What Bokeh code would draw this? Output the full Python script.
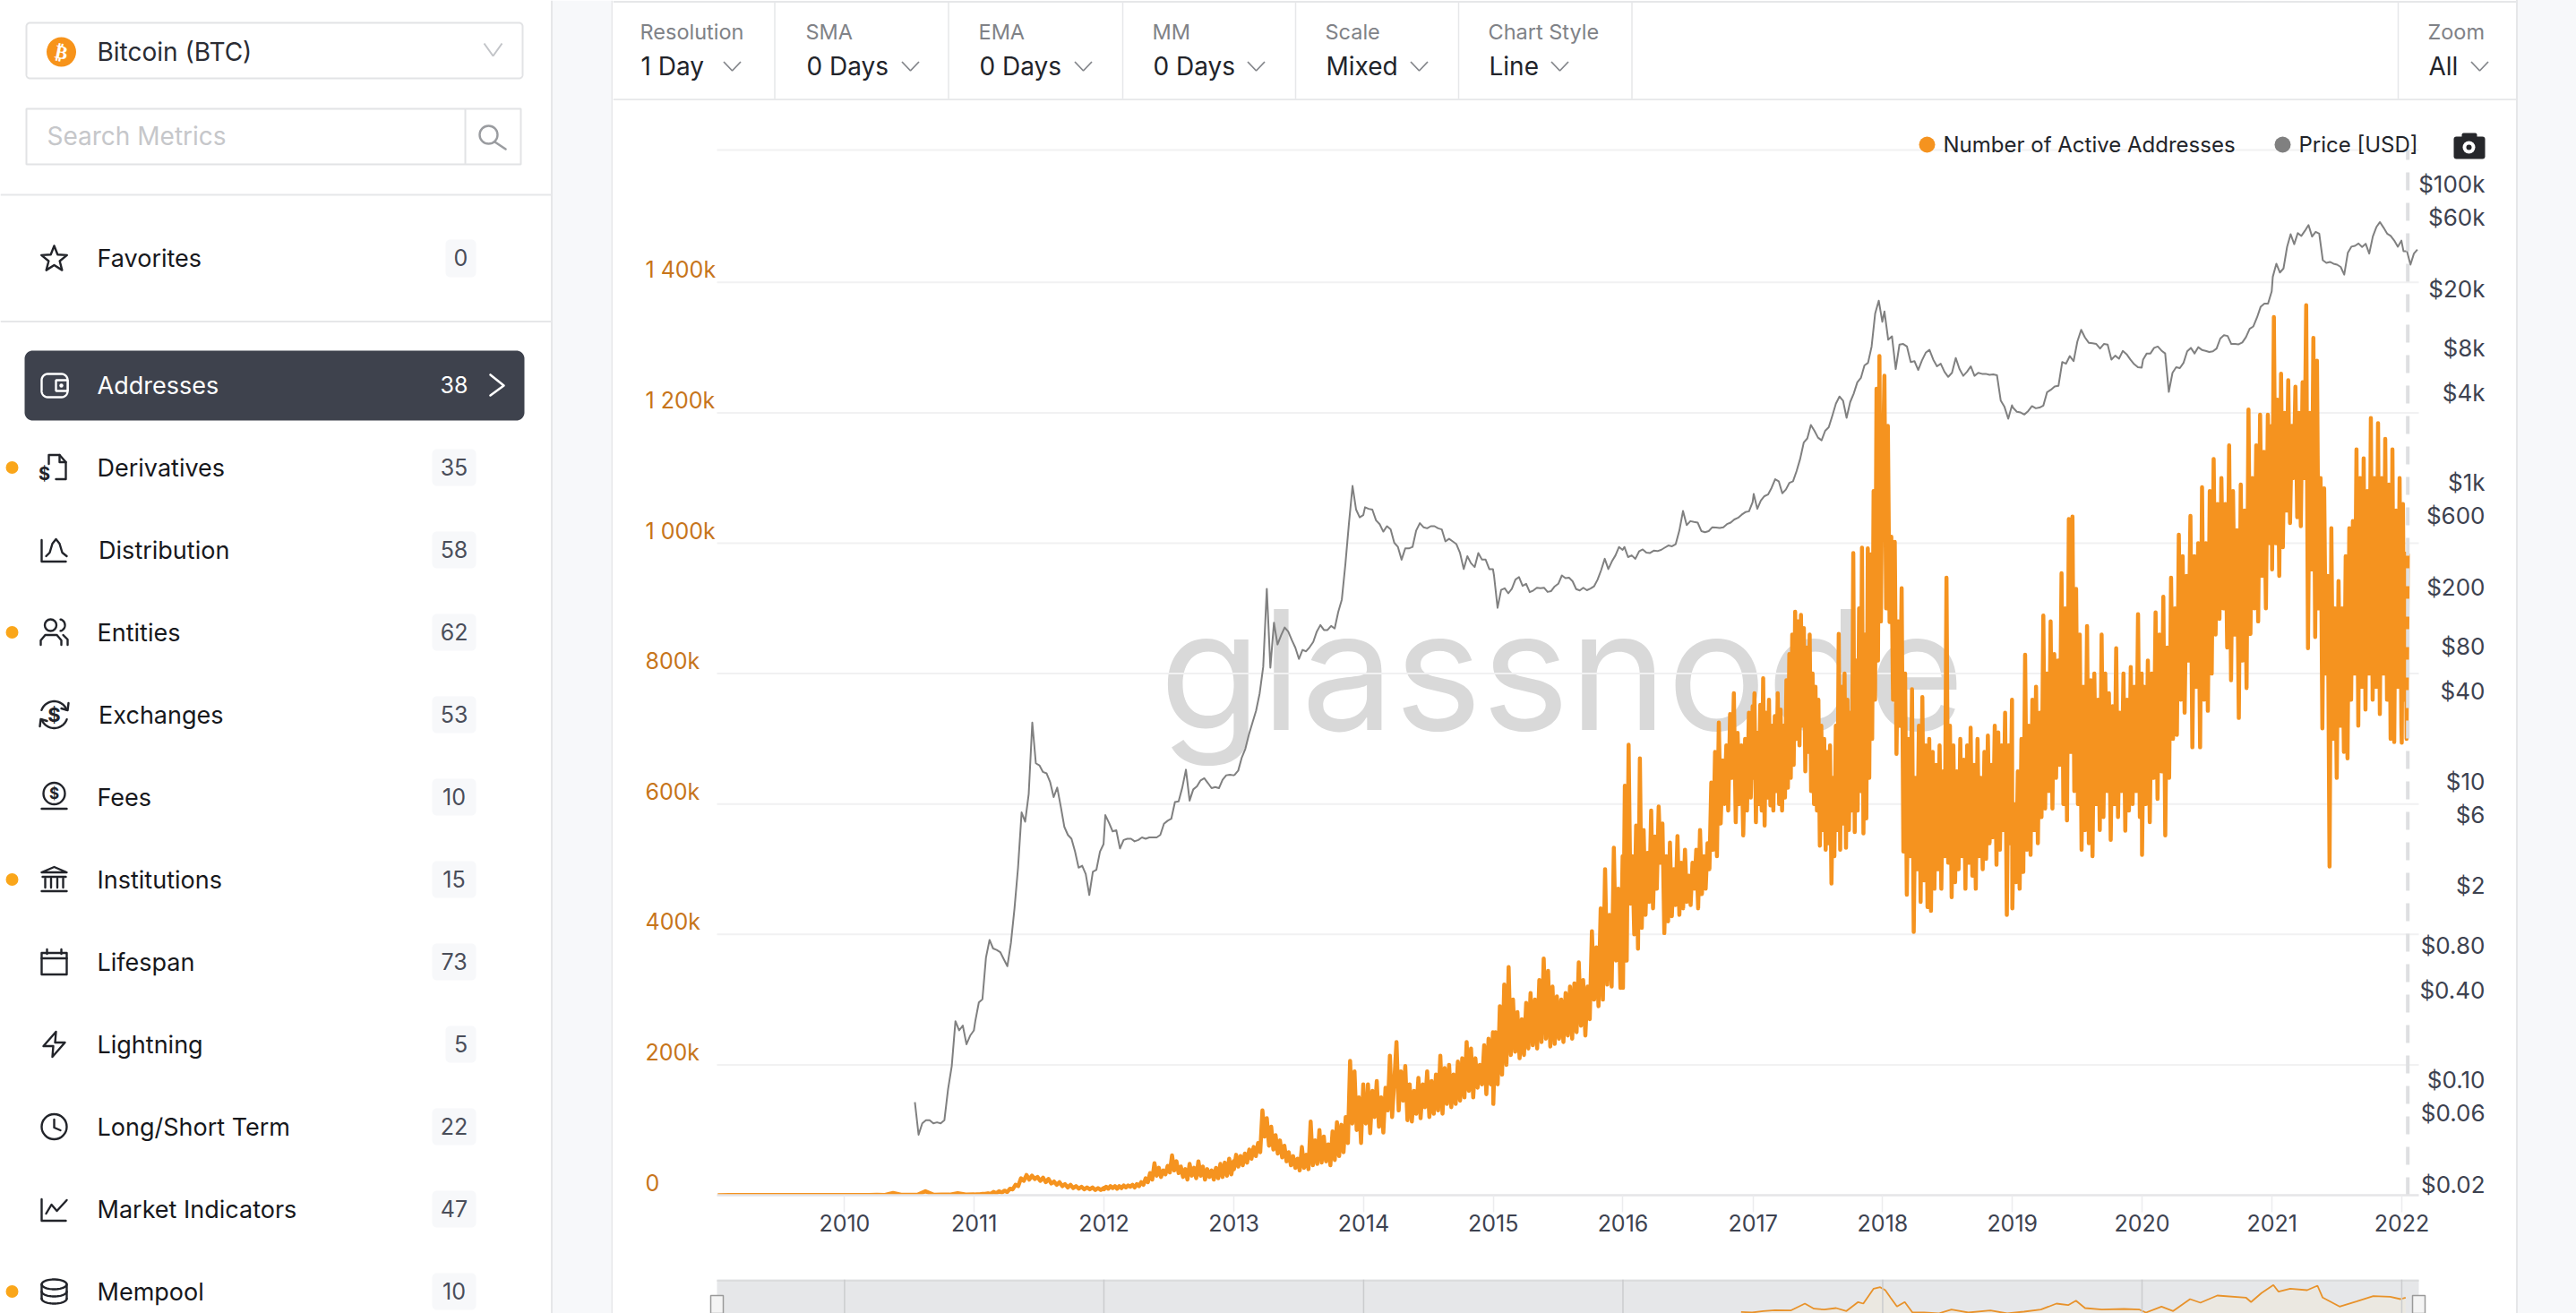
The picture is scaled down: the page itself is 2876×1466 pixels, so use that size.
#Bitcoin active addresses vs price, glassnode studio page
import numpy as np
import pandas as pd
from bokeh.core.properties import value
from bokeh.embed import file_html
from bokeh.layouts import column, row
from bokeh.models import (BoxAnnotation, ColumnDataSource, DatetimeTickFormatter, FixedTicker, Label,
                          LabelSet, LogScale, Range1d, Spacer)
from bokeh.plotting import figure
from bokeh.resources import INLINE

#active addresses, thousands
active_2009 = [0.1, 0.2, 0.2, 0.3, 0.3, 0.4, 0.3, 0.4, 0.4, 0.3, 0.4, 0.4]
active_2010 = [0.4, 0.5, 0.4, 0.5, 0.6, 0.5, 3.5, 0.6, 0.7, 0.6, 6, 0.8, 1, 0.9, 3, 1.2, 1.5]
active_2011 = [1, 1.5, 1.5, 2, 2, 3, 2, 5, 3, 6, 4, 7, 5, 10, 9, 16, 14, 26, 22, 31, 24, 30, 25, 28, 22, 27, 20, 25,
               18, 21, 16, 20, 14, 17, 12, 16, 11, 14, 10, 13, 9, 12, 9, 12, 8, 11, 8, 11]
active_2012 = [9, 13, 10, 14, 11, 14, 10, 14, 11, 15, 12, 15, 13, 16, 12, 17, 14, 20, 16, 26, 20, 34, 24, 49, 30, 42,
               28, 38, 32, 45, 35, 61, 38, 52, 34, 44, 28, 40, 24, 48, 30, 42, 26, 52, 30, 44, 24, 40, 28, 38, 24, 42,
               26, 48, 28, 50, 30, 56, 32, 52]
active_2013 = [40, 62, 44, 60, 46, 64, 50, 70, 56, 74, 60, 80, 66, 130, 90, 118, 76, 105, 70, 92, 64, 84, 58, 76, 52,
               66, 46, 60, 42, 56, 38, 74, 42, 62, 40, 113, 46, 84, 48, 100, 50, 90, 52, 78, 46, 98, 54, 112, 60, 108,
               66, 120, 80, 206, 110, 190, 100, 150, 80, 170]
active_2014 = [150, 110, 170, 95, 160, 120, 175, 105, 150, 96, 165, 130, 214, 120, 175, 235, 130, 190, 145, 198, 115,
               170, 113, 160, 125, 180, 118, 170, 135, 190, 120, 175, 125, 185, 130, 214, 125, 195, 140, 200, 135, 185,
               140, 205, 145, 210, 150, 235, 160, 225, 150, 210, 165, 200, 170, 230, 155, 240, 170, 250]
active_2015 = [140, 250, 170, 290, 185, 323, 200, 350, 215, 300, 220, 281, 210, 270, 215, 295, 225, 310, 230, 300, 225,
               330, 235, 363, 240, 344, 228, 320, 232, 305, 240, 300, 235, 310, 245, 320, 240, 325, 250, 357, 260, 330,
               245, 320, 270, 405, 300, 380, 290, 440, 300, 500, 323, 430, 320, 533, 360, 470, 318, 520]
active_2016 = [318, 628, 360, 691, 447, 520, 400, 567, 378, 670, 410, 560, 430, 525, 450, 590, 440, 550, 470, 596, 510,
               570, 402, 520, 420, 541, 428, 500, 445, 551, 430, 510, 440, 530, 450, 490, 445, 510, 470, 530, 440, 560,
               462, 520, 470, 540, 500, 633, 530, 680, 520, 725, 570, 667, 600, 690, 590, 738, 640, 770, 572, 709, 600,
               690, 552, 700, 590, 740, 610, 750]
active_2017 = [640, 770, 572, 709, 600, 752, 590, 793, 567, 740, 610, 760, 598, 720, 590, 735, 620, 770, 600, 745, 590,
               720, 610, 790, 625, 830, 640, 860, 660, 895, 700, 880, 690, 890, 720, 870, 650, 840, 680, 860, 620, 800,
               600, 780, 590, 760, 536, 720, 560, 700, 530, 680, 540, 690, 478, 640, 520, 720, 560, 861, 530, 780, 570,
               800, 533, 760, 560, 740, 590, 985, 557, 820, 590, 900, 620, 993, 555, 860, 578, 992, 640, 983, 700,
               1080, 760, 1237, 820, 1287, 880, 1130]
active_2018 = [1100, 1257, 900, 1180, 879, 1010, 760, 1002, 677, 880, 720, 931, 527, 800, 461, 700, 520, 776, 404, 640,
               500, 720, 450, 764, 483, 690, 442, 700, 436, 680, 470, 660, 500, 690, 470, 650, 520, 947, 510, 720, 457,
               690, 480, 650, 500, 700, 520, 668, 470, 690, 510, 717, 490, 660, 470, 700, 520, 640, 500, 680, 516, 705,
               540, 660, 549, 720, 507, 710, 530, 690, 560, 740, 430, 690, 540, 760]
active_2019 = [440, 600, 480, 650, 470, 700, 496, 829, 530, 720, 522, 760, 560, 780, 540, 740, 580, 889, 593, 800, 620,
               880, 593, 830, 640, 820, 660, 954, 600, 900, 575, 1037, 680, 1041, 620, 930, 600, 860, 530, 780, 560,
               873, 540, 790, 520, 800, 600, 760, 560, 860, 580, 800, 620, 770, 545, 750, 600, 839, 580, 740, 620, 800,
               559, 760, 590, 810, 600, 780, 620, 891, 580, 800]
active_2020 = [522, 780, 600, 820, 572, 800, 640, 894, 608, 860, 650, 918, 552, 840, 640, 947, 700, 900, 706, 1013, 760,
               980, 740, 950, 820, 1042, 687, 980, 780, 1000, 687, 1086, 760, 1000, 743, 1080, 800, 1129, 860, 1060,
               884, 1100, 900, 1060, 840, 1150, 790, 1080, 860, 1020, 732, 1090, 820, 1050, 778, 1205, 861, 1100, 900,
               1150, 880, 1197, 950, 1140, 900, 1197, 1000, 1180]
active_2021 = [960, 1347, 1000, 1220, 950, 1260, 994, 1200, 1050, 1250, 1031, 1180, 1100, 1240, 1040, 1200, 1026, 1247,
               1100, 1365, 839, 1200, 960, 1315, 856, 1280, 900, 1100, 716, 1084, 800, 950, 504, 1023, 700, 900, 640,
               942, 720, 900, 680, 980, 670, 1023, 760, 1034, 800, 1144, 720, 1100, 780, 1130, 745, 1080, 800, 1192,
               760, 1100, 780, 1184, 738, 1100, 800, 1160, 760, 1090, 700, 1144, 695, 1050, 780, 1100, 720]
active_2022 = [694, 1060, 760, 984, 700, 984]

#price in USD
price_2010 = [0.086, 0.052, 0.062, 0.065, 0.065, 0.062, 0.063, 0.062, 0.065, 0.105, 0.15, 0.30, 0.26, 0.28, 0.21, 0.24,
              0.26]
price_2011 = [0.30, 0.40, 0.42, 0.80, 1.05, 0.92, 0.90, 0.87, 0.78, 0.70, 1.0, 1.7, 3.2, 7.5, 6.5, 10, 30, 16, 15.5, 14,
              13.7, 12, 9.5, 11, 8.2, 6.0, 5.3, 5.0, 4.1, 3.2, 3.3, 2.9, 2.1, 3.0, 3.1, 4.1, 4.6]
price_2012 = [7.2, 6.4, 5.6, 5.7, 4.3, 4.9, 5.0, 5.0, 4.8, 4.9, 5.1, 5.0, 5.1, 5.1, 5.1, 5.3, 6.3, 6.6, 6.8, 8.8, 8.9,
              11, 14.5, 9.0, 10.7, 11.2, 12.3, 12.7, 11.8, 10.9, 11.1, 10.9, 12.4, 13.3, 13.4, 13.3]
price_2013 = [13.4, 14.3, 17.5, 20, 25, 30, 36, 47, 71, 236, 70, 140, 100, 115, 130, 122, 107, 95, 80, 92, 90, 96, 104,
              122, 135, 125, 125, 133, 128, 165, 200, 345, 650, 1153, 800, 710, 735]
price_2014 = [830, 810, 800, 680, 640, 570, 620, 590, 480, 450, 370, 440, 440, 450, 580, 650, 610, 600, 620, 620, 600,
              590, 490, 510, 490, 470, 410, 320, 390, 350, 330, 410, 370, 370, 320, 320]
price_2015 = [290, 176, 232, 238, 220, 236, 272, 283, 247, 255, 224, 230, 240, 238, 240, 225, 228, 245, 255, 290, 278,
              280, 265, 235, 230, 240, 231, 237, 245, 272, 315, 375, 320, 360, 395, 450, 430]
price_2016 = [450, 385, 395, 375, 420, 433, 412, 410, 425, 422, 430, 445, 460, 455, 470, 580, 784, 630, 670, 662, 655,
              575, 565, 575, 610, 608, 603, 610, 640, 655, 688, 705, 740, 770, 780, 900]
price_2017 = [1020, 810, 920, 985, 1010, 1120, 1280, 1240, 1030, 1090, 1210, 1240, 1450, 1750, 2250, 2400, 2950, 2700,
              2430, 2330, 2700, 2850, 3400, 4100, 4580, 4300, 3300, 4200, 4800, 5700, 6100, 7400, 7700, 9900, 16500,
              20100, 14500]
price_2018 = [17000, 11000, 11600, 7000, 10200, 10300, 9900, 7800, 7900, 6900, 8000, 9000, 9400, 8100, 7300, 7600, 6700,
              6200, 6600, 8300, 7000, 6300, 6700, 7300, 6300, 6600, 6500, 6500, 6400, 6450, 6350, 4300, 3900, 3250,
              4000]
price_2019 = [3850, 3620, 3580, 3470, 3660, 3950, 3820, 3860, 3980, 4900, 5080, 5350, 5400, 7800, 7600, 8550, 7900,
              10700, 12800, 11400, 10500, 10400, 10300, 9600, 10300, 10200, 8100, 8600, 8200, 9250, 8800, 8100, 7550,
              7200, 7150]
price_2020 = [8100, 8900, 8900, 9700, 9900, 9300, 8900, 4920, 6600, 7200, 7100, 7700, 9200, 9700, 8900, 9800, 9400,
              9250, 9100, 9200, 9600, 11200, 11800, 11650, 10300, 10300, 10250, 10550, 11450, 13000, 13500, 15500,
              18300, 19200, 19200, 23200]
price_2021 = [29000, 35500, 31000, 33000, 46000, 56000, 48000, 57000, 54500, 59000, 64500, 54000, 58000, 56500, 37500,
              36000, 36500, 35500, 35000, 33800, 30000, 42000, 46200, 46800, 48500, 46000, 48300, 41500, 54000, 62500,
              67500, 62000, 56500, 54600, 50800, 46200, 50700]
price_2022 = [43000, 43000, 35000, 41500, 44200]

#overview strip under the chart: position in years and height of the line
navigator_years = [2016.91, 2016.995, 2017.08, 2017.17, 2017.29, 2017.40, 2017.47, 2017.55, 2017.64, 2017.72, 2017.81,
                   2017.85, 2017.93, 2017.98, 2018.02, 2018.06, 2018.11, 2018.17, 2018.23, 2018.32, 2018.43, 2018.53,
                   2018.66, 2018.83, 2018.96, 2019.09, 2019.22, 2019.34, 2019.43, 2019.49, 2019.56, 2019.69, 2019.86,
                   2019.98, 2020.03, 2020.15, 2020.24, 2020.37, 2020.45, 2020.58, 2020.80, 2020.84, 2020.92, 2021.01,
                   2021.05, 2021.14, 2021.27, 2021.35, 2021.39, 2021.52, 2021.65, 2021.78, 2021.91, 2021.99, 2022.03]
navigator_level = [1.7, 1, 2.7, 3.7, 3.3, 11, 5.3, 4.3, 6, 2.7, 12.7, 11, 27.7, 29.3, 26, 17.7, 7.7, 12.7, 1, 1, 0, 4.3,
                   1, 3.3, 0, 2, 4.3, 11, 9.3, 14.3, 6, 4.3, 5, 4.3, 1, 7.7, 2.7, 16, 12, 20, 17.7, 12.7, 22.7, 31.7,
                   24.3, 27.7, 26, 31, 17.7, 7.7, 13.3, 19.3, 18.7, 16, 17.7]
navigator_marks = [2010, 2012, 2014, 2016, 2018, 2020, 2022]

year_ticks = [2010, 2011, 2012, 2013, 2014, 2015, 2016, 2017, 2018, 2019, 2020, 2021, 2022]
active_ticks = [0, 200, 400, 600, 800, 1000, 1200, 1400]
active_tick_labels = ["0", "200k", "400k", "600k", "800k", "1 000k", "1 200k", "1 400k"]
active_grid = [200, 400, 600, 800, 1000, 1200, 1400, 1603]
price_ticks = [100000, 60000, 20000, 8000, 4000, 1000, 600, 200, 80, 40, 10, 6, 2, 0.8, 0.4, 0.1, 0.06, 0.02]
price_tick_labels = ["$100k", "$60k", "$20k", "$8k", "$4k", "$1k", "$600", "$200", "$80", "$40", "$10", "$6", "$2",
                     "$0.80", "$0.40", "$0.10", "$0.06", "$0.02"]

menu_names = ["Derivatives", "Distribution", "Entities", "Exchanges", "Fees", "Institutions", "Lifespan", "Lightning",
              "Long/Short Term", "Market Indicators", "Mempool"]
menu_counts = ["35", "58", "62", "53", "10", "15", "73", "5", "22", "47", "10"]
menu_dots = ["Derivatives", "Entities", "Institutions", "Mempool"]
toolbar_labels = ["Resolution", "SMA", "EMA", "MM", "Scale", "Chart Style", "Zoom"]
toolbar_values = ["1 Day", "0 Days", "0 Days", "0 Days", "Mixed", "Line", "All"]

ORANGE = "#f5931f"
GRAY = "#808080"
FONT = value("Inter")
EDGE = "#e6e7e9"


def spread(values, start, end):
    return pd.date_range(start, end, periods=len(values))


def year_date(y):
    year = int(y)
    return pd.Timestamp(year=year, month=1, day=1) + pd.Timedelta(days=(y - year) * 365.25)


def ms(t):
    return t.timestamp() * 1000


active_parts = [(active_2009, "2009-01-09", "2009-12-31"), (active_2010, "2010-01-01", "2010-12-31"),
                (active_2011, "2011-01-01", "2011-12-31"), (active_2012, "2012-01-01", "2012-12-31"),
                (active_2013, "2013-01-01", "2013-12-31"), (active_2014, "2014-01-01", "2014-12-31"),
                (active_2015, "2015-01-01", "2015-12-31"), (active_2016, "2016-01-01", "2016-12-31"),
                (active_2017, "2017-01-01", "2017-12-31"), (active_2018, "2018-01-01", "2018-12-31"),
                (active_2019, "2019-01-01", "2019-12-31"), (active_2020, "2020-01-01", "2020-12-31"),
                (active_2021, "2021-01-01", "2021-12-31"), (active_2022, "2022-01-01", "2022-01-18")]
price_parts = [(price_2010, "2010-07-18", "2010-12-31"), (price_2011, "2011-01-04", "2011-12-31"),
               (price_2012, "2012-01-05", "2012-12-31"), (price_2013, "2013-01-03", "2013-12-31"),
               (price_2014, "2014-01-05", "2014-12-31"), (price_2015, "2015-01-03", "2015-12-31"),
               (price_2016, "2016-01-05", "2016-12-31"), (price_2017, "2017-01-03", "2017-12-31"),
               (price_2018, "2018-01-06", "2018-12-31"), (price_2019, "2019-01-03", "2019-12-31"),
               (price_2020, "2020-01-04", "2020-12-31"), (price_2021, "2021-01-03", "2021-12-31"),
               (price_2022, "2022-01-06", "2022-02-14")]
active_dates = np.concatenate([spread(v, a, b).values for v, a, b in active_parts])
active_values = [x for v, a, b in active_parts for x in v]
price_dates = np.concatenate([spread(v, a, b).values for v, a, b in price_parts])
price_values = [x for v, a, b in price_parts for x in v]

x_start = pd.Timestamp("2009-01-07")
x_end = pd.Timestamp("2022-02-18")
per_px = (x_end - x_start) / 1900
# panel runs 116px left and 109px right of the plotted dates
view_start = x_start - per_px * 116
view_end = x_end + per_px * 109

# ---------------------------------------------------------------- sidebar
side = figure(width=684, height=1466, x_range=Range1d(0, 684), y_range=Range1d(1466, 0), output_backend="svg",
              toolbar_location=None, x_axis_location=None, y_axis_location=None, min_border=0,
              outline_line_color=None, background_fill_color="white", border_fill_color="white")
side.grid.visible = False


def stroke(xs, ys, color="#22242a", width=2.4):
    side.line(xs, ys, line_color=color, line_width=width, line_join="round", line_cap="round")


def ring(x, y, r, color="#22242a", width=2.4):
    side.circle([x], [y], radius=r, fill_color=None, line_color=color, line_width=width)


def arc_pts(cx, cy, rx, ry, a0, a1):
    t = np.radians(np.linspace(a0, a1, 30))
    return list(cx + rx * np.cos(t)), list(cy + ry * np.sin(t))


def box(x0, x1, y0, y1, color="#e2e3e5", fill=None, radius=0, width=2):
    xs = [x0 + radius, x1 - radius]
    ys = [y0, y0]
    if radius:
        a, b = arc_pts(x1 - radius, y0 + radius, radius, radius, -90, 0)
        xs += a; ys += b
        a, b = arc_pts(x1 - radius, y1 - radius, radius, radius, 0, 90)
        xs += a; ys += b
        a, b = arc_pts(x0 + radius, y1 - radius, radius, radius, 90, 180)
        xs += a; ys += b
        a, b = arc_pts(x0 + radius, y0 + radius, radius, radius, 180, 270)
        xs += a; ys += b
    else:
        xs = [x0, x1, x1, x0]
        ys = [y0, y0, y1, y1]
    side.patch(xs, ys, fill_color=fill or "white", fill_alpha=1 if fill else 0, line_color=color, line_width=width)


def chevron(p, x, y, w, h, color, width=1.8):
    p.line([x - w / 2, x, x + w / 2], [y - h / 2, y + h / 2, y - h / 2], line_color=color, line_width=width)


side.quad(left=[616], right=[682], top=[0], bottom=[1466], fill_color="#f7f8fa", line_color=None)
side.quad(left=[682], right=[684], top=[0], bottom=[1466], fill_color=EDGE, line_color=None)
side.line([615.5, 615.5], [0, 1466], line_color=EDGE, line_width=2)
side.line([0, 615], [217, 217], line_color=EDGE, line_width=2)
side.line([0, 615], [358.5, 358.5], line_color=EDGE, line_width=2)

box(29, 583, 25, 87, radius=4)
side.circle([68], [57.5], radius=16.5, fill_color="#f7931a", line_color=None)
side.text([68], [58], text=["\u20bf"], text_font=value("DejaVu Sans"), text_font_style="bold", text_font_size="21px",
          text_color="white", text_align="center", text_baseline="middle", angle=[-0.2])
side.text([108], [57], text=["Bitcoin (BTC)"], text_font=FONT, text_font_size="28px", text_color="#2a2c33",
          text_baseline="middle")
chevron(side, 550, 55, 20, 14, "#c2c4c8", 2)
box(29, 581, 121, 183)
side.line([519, 519], [121, 183], line_color="#e2e3e5", line_width=2)
side.text([52], [151.5], text=["Search Metrics"], text_font=FONT, text_font_size="28px", text_color="#c6c7ca",
          text_baseline="middle")
ring(545, 150, 10, "#9a9ca0", 2.4)
stroke([552, 564], [158, 166], "#9a9ca0", 2.6)

# Favorites row and the selected row
side.text([108], [288], text=["Favorites"], text_font=FONT, text_font_size="27px", text_color="#17181c",
          text_baseline="middle")
box(498, 530, 268, 308, color="#f7f8fa", fill="#f7f8fa", radius=4)
side.text([514], [287], text=["0"], text_font=FONT, text_font_size="25px", text_color="#4a4e5a", text_align="center",
          text_baseline="middle")
t = np.radians(np.arange(0, 11) * 36 - 90)
r = np.array([15, 6.5] * 5 + [15])
stroke(list(60 + r * np.cos(t)), list(289 + r * np.sin(t)))

box(28, 584, 392, 468, color="#3e424d", fill="#3e424d", radius=8)
side.text([108], [429.5], text=["Addresses"], text_font=FONT, text_font_size="27px", text_color="white",
          text_baseline="middle")
side.text([506.5], [429], text=["38"], text_font=FONT, text_font_size="25px", text_color="white", text_align="center",
          text_baseline="middle")
stroke([547, 562, 547], [418, 430, 441], "white", 2.6)
box(46, 75, 417, 443, color="white", radius=7, width=2.4)
side.patch([75, 62, 62, 75], [424, 424, 436, 436], fill_color="#3e424d", line_color="white", line_width=2.4)
side.circle([68], [430], radius=2.2, fill_color="white", line_color=None)


def icon(name, y):
    cx = 60
    if name == "Derivatives":
        stroke([cx - 6, cx - 6, cx + 6, cx + 13, cx + 13, cx + 2], [y - 4, y - 14, y - 14, y - 6, y + 13, y + 13])
        stroke([cx + 6, cx + 6, cx + 13], [y - 14, y - 6, y - 6])
        side.text([cx - 11], [y + 7], text=["$"], text_font=FONT, text_font_style="bold", text_font_size="20px",
                  text_color="#22242a", text_align="center", text_baseline="middle")
    elif name == "Distribution":
        stroke([cx - 14, cx - 14, cx + 13], [y - 11, y + 13, y + 13])
        stroke([cx - 9, cx - 5, cx - 2, cx + 2, cx + 6, cx + 9, cx + 14],
               [y + 7, y + 3, y - 7, y - 12, y - 7, y + 3, y + 7])
    elif name == "Entities":
        ring(cx - 4, y - 8, 6.5)
        stroke([cx - 15, cx - 15, cx - 10, cx + 3, cx + 8, cx + 8], [y + 14, y + 9, y + 3, y + 3, y + 9, y + 14])
        a, b = arc_pts(cx + 6, y - 8, 6, 6.5, -80, 80)
        stroke(a, b)
        stroke([cx + 10, cx + 15, cx + 15], [y + 3, y + 8, y + 14])
    elif name == "Exchanges":
        a, b = arc_pts(cx, y, 15, 15, -160, -20)
        stroke(a, b)
        a, b = arc_pts(cx, y, 15, 15, 20, 160)
        stroke(a, b)
        stroke([cx + 16, cx + 15, cx + 8], [y - 13, y - 5, y - 7])
        stroke([cx - 16, cx - 15, cx - 8], [y + 13, y + 5, y + 7])
        side.text([cx], [y], text=["$"], text_font=FONT, text_font_style="bold", text_font_size="22px",
                  text_color="#22242a", text_align="center", text_baseline="middle")
    elif name == "Fees":
        ring(cx, y - 4, 12)
        stroke([cx - 14, cx + 14], [y + 13, y + 13])
        side.text([cx], [y - 4], text=["$"], text_font=FONT, text_font_style="bold", text_font_size="17px",
                  text_color="#22242a", text_align="center", text_baseline="middle")
    elif name == "Institutions":
        stroke([cx - 14, cx, cx + 14, cx - 14], [y - 8, y - 14, y - 8, y - 8])
        stroke([cx - 13, cx + 13], [y - 3, y - 3])
        for dx in [-10, -3.5, 3.5, 10]:
            stroke([cx + dx, cx + dx], [y - 1, y + 9])
        stroke([cx - 14, cx + 14], [y + 13, y + 13])
    elif name == "Lifespan":
        stroke([cx - 14, cx + 14, cx + 14, cx - 14, cx - 14], [y - 10, y - 10, y + 14, y + 14, y - 10])
        stroke([cx - 14, cx + 14], [y - 4, y - 4])
        stroke([cx - 8, cx - 8], [y - 14, y - 9])
        stroke([cx + 8, cx + 8], [y - 14, y - 9])
    elif name == "Lightning":
        stroke([cx + 2, cx - 12, cx - 1, cx - 2, cx + 12, cx + 1, cx + 2],
               [y - 14, y + 2, y + 2, y + 14, y - 2, y - 2, y - 14])
    elif name == "Long/Short Term":
        ring(cx, y, 14)
        stroke([cx, cx, cx + 7], [y - 8, y + 1, y + 4])
    elif name == "Market Indicators":
        stroke([cx - 14, cx - 14, cx + 13], [y - 11, y + 13, y + 13])
        stroke([cx - 9, cx - 3, cx + 3, cx + 14], [y + 5, y - 5, y + 2, y - 10])
    elif name == "Mempool":
        a, b = arc_pts(cx, y - 8, 14, 5.5, 0, 360)
        stroke(a, b)
        stroke([cx - 14, cx - 14], [y - 8, y + 8])
        stroke([cx + 14, cx + 14], [y - 8, y + 8])
        a, b = arc_pts(cx, y, 14, 5.5, 0, 180)
        stroke(a, b)
        a, b = arc_pts(cx, y + 8, 14, 5.5, 0, 180)
        stroke(a, b)


for i, (name, count) in enumerate(zip(menu_names, menu_counts)):
    y = 521.5 + 92 * i
    label_x = 109.6 if name in ("Distribution", "Exchanges") else 108
    side.text([label_x], [y], text=[name], text_font=FONT, text_font_size="27px", text_color="#17181c",
              text_baseline="middle")
    left = 498 if len(count) == 1 else 483
    box(left, 530, y - 19.5, y + 19.5, color="#f7f8fa", fill="#f7f8fa", radius=4)
    side.text([(left + 530) / 2], [y - 0.5], text=[count], text_font=FONT, text_font_size="25px", text_color="#4a4e5a",
              text_align="center", text_baseline="middle")
    if name in menu_dots:
        side.circle([13], [y], radius=7, fill_color="#faa61a", line_color=None)
    icon(name, y)

# ---------------------------------------------------------------- option bar over the chart
bar = figure(width=2125, height=112, x_range=Range1d(684, 2809), y_range=Range1d(112, 0), output_backend="svg",
             toolbar_location=None, x_axis_location=None, y_axis_location=None, min_border=0,
             outline_line_color=None, background_fill_color="white", border_fill_color="white")
bar.grid.visible = False
bar.line([684, 2809], [111, 111], line_color=EDGE, line_width=2.5)
bar.line([684, 2809], [1.5, 1.5], line_color=EDGE, line_width=2)
for sep in [864.5, 1058.5, 1253, 1446, 1628, 1821.5, 2677]:
    bar.line([sep, sep], [2, 110], line_color=EDGE, line_width=1.5)
label_pos = [714, 899, 1092, 1286, 1479, 1661, 2710]
chev_pos = [817, 1016, 1209, 1402, 1584, 1741, 2768]
for name, val, x, cx in zip(toolbar_labels, toolbar_values, label_pos, chev_pos):
    bar.text([x], [35], text=[name], text_font=FONT, text_font_size="23.5px", text_color="#808287",
             text_baseline="middle")
    bar.text([x + 1], [73], text=[val], text_font=FONT, text_font_size="28px", text_color="#22242a",
             text_baseline="middle")
    chevron(bar, cx, 73.5, 19, 10, "#85878c")

# ---------------------------------------------------------------- main chart
# frame fills the panel down to the date axis, so legend and value labels stay inside it
p = figure(width=2125, height=1316, x_axis_type="datetime", x_range=Range1d(view_start, view_end),
           y_range=Range1d(0, 1678.6), y_axis_location=None, output_backend="svg", toolbar_location=None,
           min_border_left=0, min_border_right=0, min_border_top=0, min_border_bottom=94,
           outline_line_color=None, background_fill_color="white", border_fill_color="white")
p.extra_y_ranges = {"price": Range1d(0.02047, 438400)}
p.extra_y_scales = {"price": LogScale()}

p.xgrid.visible = False
p.ygrid.visible = False
p.xaxis.bounds = (ms(x_start), ms(x_end))
p.xaxis.ticker = FixedTicker(ticks=[ms(pd.Timestamp(year=y, month=1, day=1)) for y in year_ticks])
p.xaxis.formatter = DatetimeTickFormatter(years="%Y", months="%Y", days="%Y", hours="%Y", context=None)
p.xaxis.axis_line_color = "#e5e5e7"
p.xaxis.axis_line_width = 2.5
p.xaxis.major_tick_line_color = "#ececee"
p.xaxis.major_tick_line_width = 1.5
p.xaxis.major_tick_in = 0
p.xaxis.major_tick_out = 19
p.xaxis.minor_tick_line_color = None
p.xaxis.major_label_text_font = "Inter"
p.xaxis.major_label_text_font_size = "25px"
p.xaxis.major_label_text_color = "#3d4250"
p.xaxis.major_label_standoff = 2

mark = Label(x=610, y=635, x_units="canvas", y_units="canvas", text="glassnode", text_font="Inter",
             text_font_size="185px", text_color="#d9d9d9", text_baseline="alphabetic", level="underlay")
p.add_layout(mark)

p.segment([x_start] * len(active_grid), active_grid, [x_end] * len(active_grid), active_grid, line_color="#f1f1f2",
          line_width=2)
p.line(price_dates, price_values, y_range_name="price", line_color=GRAY, line_width=2, line_join="round")
p.line(active_dates, active_values, line_color=ORANGE, line_width=4.5, line_join="round")
p.line([pd.Timestamp("2022-01-18")] * 2, [0, 1603], line_color="#dedfe1", line_width=4, line_dash=[20, 14])

left_src = ColumnDataSource(dict(x=[36] * len(active_ticks), y=active_ticks, t=active_tick_labels))
p.add_layout(LabelSet(x="x", y="y", text="t", source=left_src, x_units="canvas", y_offset=14, text_font=FONT,
                      text_font_size="25px", text_color="#c7751b", text_align="left", text_baseline="middle"))
right_src = ColumnDataSource(dict(x=[2090] * len(price_ticks), y=price_ticks, t=price_tick_labels))
p.add_layout(LabelSet(x="x", y="y", text="t", source=right_src, x_units="canvas", y_range_name="price", y_offset=14,
                      text_font=FONT, text_font_size="26px", text_color="#3d4250", text_align="right",
                      text_baseline="middle"))


def pill(fig, left, right, top, bottom, color, radius=0):
    fig.add_layout(BoxAnnotation(left=left, right=right, top=top, bottom=bottom, left_units="canvas",
                                 right_units="canvas", top_units="canvas", bottom_units="canvas", fill_color=color,
                                 fill_alpha=1, line_alpha=0, border_radius=radius, level="overlay"))


# legend and camera button, in canvas pixels
pill(p, 1458, 1476, 40, 58, ORANGE, 9)
p.add_layout(Label(x=1485, y=49, x_units="canvas", y_units="canvas", text="Number of Active Addresses",
                   text_font="Inter", text_font_size="24px", text_color="#22242a", text_baseline="middle"))
pill(p, 1855, 1873, 40, 58, GRAY, 9)
p.add_layout(Label(x=1882, y=49, x_units="canvas", y_units="canvas", text="Price [USD]", text_font="Inter",
                   text_font_size="24px", text_color="#22242a", text_baseline="middle"))
pill(p, 2055, 2090, 40, 65, "#26272b", 3)
pill(p, 2064, 2081, 36, 42, "#26272b", 2)
pill(p, 2065, 2079, 45, 59, "white", 7)
pill(p, 2069, 2075, 49, 55, "#26272b", 3)

# ---------------------------------------------------------------- overview strip
nav_dates = [year_date(y) for y in navigator_years]
nav = figure(width=2125, height=38, x_axis_type="datetime", x_axis_location=None, y_axis_location=None,
             x_range=Range1d(view_start, view_end), y_range=Range1d(0, 38), output_backend="svg",
             toolbar_location=None, min_border=0, outline_line_color=None, background_fill_color="white",
             border_fill_color="white")
nav.grid.visible = False
nav.quad(left=[x_start], right=[x_end], bottom=[0], top=[38], fill_color="#e6e7e9", line_color=None)
nav.quad(left=[x_start], right=[x_end], bottom=[35.5], top=[38], fill_color="#dcddde", line_color=None)
nav.varea(nav_dates, [0] * len(nav_dates), navigator_level, fill_color="#ebe8e1")
nav.line(nav_dates, navigator_level, line_color="#e8922a", line_width=1.8)
nav.segment([pd.Timestamp(year=y, month=1, day=1) for y in navigator_marks], [0] * len(navigator_marks),
            [pd.Timestamp(year=y, month=1, day=1) for y in navigator_marks], [38] * len(navigator_marks),
            line_color="#cbccce", line_width=1.5)
for edge in [x_start, x_end]:
    nav.quad(left=[edge - per_px * 7], right=[edge + per_px * 7], bottom=[0], top=[20], fill_color="#f4f4f4",
             line_color="#9a9a9a", line_width=1.5)

edge_right = Spacer(width=2, height=1466, styles={"background-color": EDGE})
strip = Spacer(width=65, height=1466, styles={"background-color": "#f7f8fa"})
page = row(side, column(bar, p, nav), edge_right, strip)

open("out.html", "w").write(file_html(page, INLINE))
